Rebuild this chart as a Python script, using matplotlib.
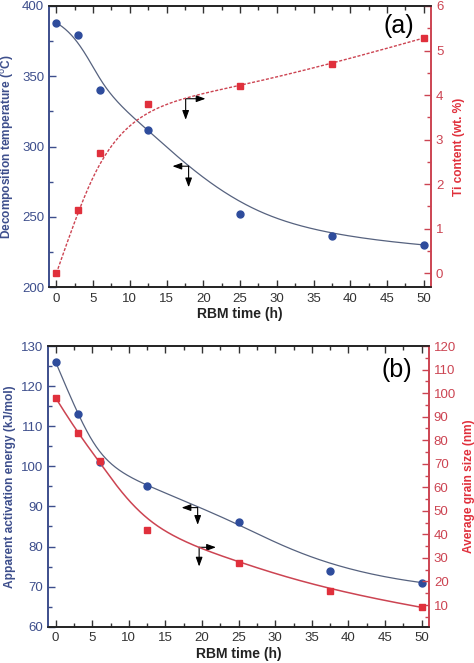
import matplotlib
matplotlib.use('Agg')
import matplotlib.pyplot as plt
from matplotlib.ticker import MultipleLocator
import numpy as np

plt.rcParams['font.family'] = ['Liberation Sans', 'DejaVu Sans']

# RBM time (h)
rbm_time = [0, 3, 6, 12.5, 25, 37.5, 50]

# panel (a)
decomp_temp = [388, 379, 340, 312, 252, 236, 230]      # deg C
ti_content = [0, 1.42, 2.7, 3.8, 4.2, 4.7, 5.28]       # wt. %

# panel (b)
act_energy = [126, 113, 101, 95, 86, 74, 71]            # kJ/mol
grain_size = [98, 83, 71, 42, 28, 16, 9]                # nm

BLUE = '#2e4c9c'
BLUE_AX = '#3d4e8c'
SLATE = '#56627f'
RED = '#e0303c'
RED_AX = '#cc4452'


def bspline(xs, ys, n=300, k=3):
    ''' clamped uniform B-spline, data points used as control points '''
    pts = np.column_stack([xs, ys]).astype(float)
    m = len(pts)
    inner = np.arange(1, m - k)
    knots = np.concatenate([np.zeros(k + 1), inner, np.full(k + 1, m - k)]).astype(float)
    ts = np.linspace(0, m - k, n)
    out = []
    for t in ts:
        # basis functions, Cox-de Boor
        N = np.zeros(len(knots) - 1)
        for i in range(len(knots) - 1):
            if knots[i] <= t < knots[i + 1]:
                N[i] = 1.0
        if t >= knots[-1]:
            N[m - 1] = 1.0
        for d in range(1, k + 1):
            Nn = np.zeros(len(knots) - 1 - d)
            for i in range(len(Nn)):
                a = 0.0
                if knots[i + d] != knots[i]:
                    a = (t - knots[i]) / (knots[i + d] - knots[i]) * N[i]
                b = 0.0
                if knots[i + d + 1] != knots[i + 1]:
                    b = (knots[i + d + 1] - t) / (knots[i + d + 1] - knots[i + 1]) * N[i + 1]
                Nn[i] = a + b
            N = Nn
        out.append(N[:m] @ pts)
    out = np.array(out)
    return out[:, 0], out[:, 1]


def style_axes(ax, ax2, lcol, rcol):
    ax.set_xlim(-1, 51)
    ax.xaxis.set_major_locator(MultipleLocator(5))
    ax.xaxis.set_minor_locator(MultipleLocator(2.5))
    ax.tick_params(axis='x', which='both', direction='in', top=True, colors='#333333',
                   labelsize=9.5, pad=4)
    ax.tick_params(axis='x', which='major', length=5, width=1)
    ax.tick_params(axis='x', which='minor', length=3, width=1)
    ax.tick_params(axis='y', which='both', direction='in', colors=lcol, labelsize=9.5)
    ax.tick_params(axis='y', which='major', length=5, width=1)
    ax.tick_params(axis='y', which='minor', length=3, width=1)
    ax2.tick_params(axis='y', which='both', direction='in', colors=rcol, labelsize=9.5)
    ax2.tick_params(axis='y', which='major', length=5, width=1)
    ax2.tick_params(axis='y', which='minor', length=3, width=1)
    for a in (ax, ax2):
        for s in a.spines.values():
            s.set_linewidth(1.2)
            s.set_color('#222222')
    ax2.spines['left'].set_color(lcol)
    ax2.spines['right'].set_color(rcol)
    ax.spines['left'].set_color(lcol)
    ax.spines['right'].set_color(rcol)
    ax.set_xlabel('RBM time (h)', fontsize=10, fontweight='bold', color='#222222', labelpad=2)


def axis_arrow(ax, corner, tip1, tip2):
    for tip in (tip1, tip2):
        ax.annotate('', xy=tip, xytext=corner,
                    arrowprops=dict(arrowstyle='-|>,head_length=0.55,head_width=0.2',
                                    color='black', lw=0.8, shrinkA=0, shrinkB=0))


fig = plt.figure(figsize=(4.74, 6.63), dpi=100)

# ---------- panel (a)
ax = fig.add_axes([0.1034, 0.567, 0.806, 0.424])
ax2 = ax.twinx()
bx, by = bspline(rbm_time, decomp_temp)
ax.plot(bx, by, color=SLATE, lw=0.9, zorder=2)
ax.plot(rbm_time, decomp_temp, 'o', color=BLUE, ms=5, mec=BLUE, zorder=3)
rx, ry = bspline(rbm_time, ti_content)
ax2.plot(rx, ry, color=RED_AX, lw=1.0, ls=(0, (2.2, 1.2)), zorder=2)
ax2.plot(rbm_time, ti_content, 's', color=RED, ms=4.5, zorder=3)
ax.set_ylim(200, 400)
ax.yaxis.set_major_locator(MultipleLocator(50))
ax.yaxis.set_minor_locator(MultipleLocator(25))
ax2.set_ylim(-0.31, 6)
ax2.yaxis.set_major_locator(MultipleLocator(1))
ax2.yaxis.set_minor_locator(MultipleLocator(0.5))
style_axes(ax, ax2, BLUE_AX, RED_AX)
ax.set_ylabel('Decomposition temperature ($^{\\mathrm{o}}$C)', fontsize=8.6,
              fontweight='bold', color=BLUE_AX, labelpad=4)
ax2.set_ylabel('Ti content (wt. %)', fontsize=8.6, fontweight='bold', color=RED, labelpad=7)
ax.text(0.955, 0.93, '(a)', transform=ax.transAxes, fontsize=18, ha='right', va='center')
axis_arrow(ax, (18.0, 286), (15.8, 286), (18.0, 271))
axis_arrow(ax, (17.6, 334), (20.3, 334), (17.6, 319))

# ---------- panel (b)
bx_ = fig.add_axes([0.102, 0.0548, 0.803, 0.4232])
bx2 = bx_.twinx()
cx, cy = bspline(rbm_time, act_energy)
bx_.plot(cx, cy, color=SLATE, lw=0.9, zorder=2)
bx_.plot(rbm_time, act_energy, 'o', color=BLUE, ms=5, zorder=3)
gx, gy = bspline(rbm_time, grain_size)
bx2.plot(gx, gy, color=RED_AX, lw=1.1, zorder=2)
bx2.plot(rbm_time, grain_size, 's', color=RED, ms=4.5, zorder=3)
bx_.set_ylim(60, 130)
bx_.yaxis.set_major_locator(MultipleLocator(10))
bx_.yaxis.set_minor_locator(MultipleLocator(5))
bx2.set_ylim(0.8, 120)
bx2.yaxis.set_major_locator(MultipleLocator(10))
bx2.yaxis.set_minor_locator(MultipleLocator(5))
style_axes(bx_, bx2, BLUE_AX, RED_AX)
bx2.set_yticks(np.arange(10, 121, 10))
bx_.set_ylabel('Apparent activation energy (kJ/mol)', fontsize=8.6,
               fontweight='bold', color=BLUE_AX, labelpad=4)
bx2.set_ylabel('Average grain size (nm)', fontsize=8.6, fontweight='bold', color=RED, labelpad=5)
bx_.text(0.955, 0.915, '(b)', transform=bx_.transAxes, fontsize=18, ha='right', va='center')
axis_arrow(bx_, (19.4, 89.7), (17.2, 89.7), (19.4, 85.4))
axis_arrow(bx_, (19.6, 79.8), (21.9, 79.8), (19.6, 75.0))

fig.savefig('out.png', dpi=100)
